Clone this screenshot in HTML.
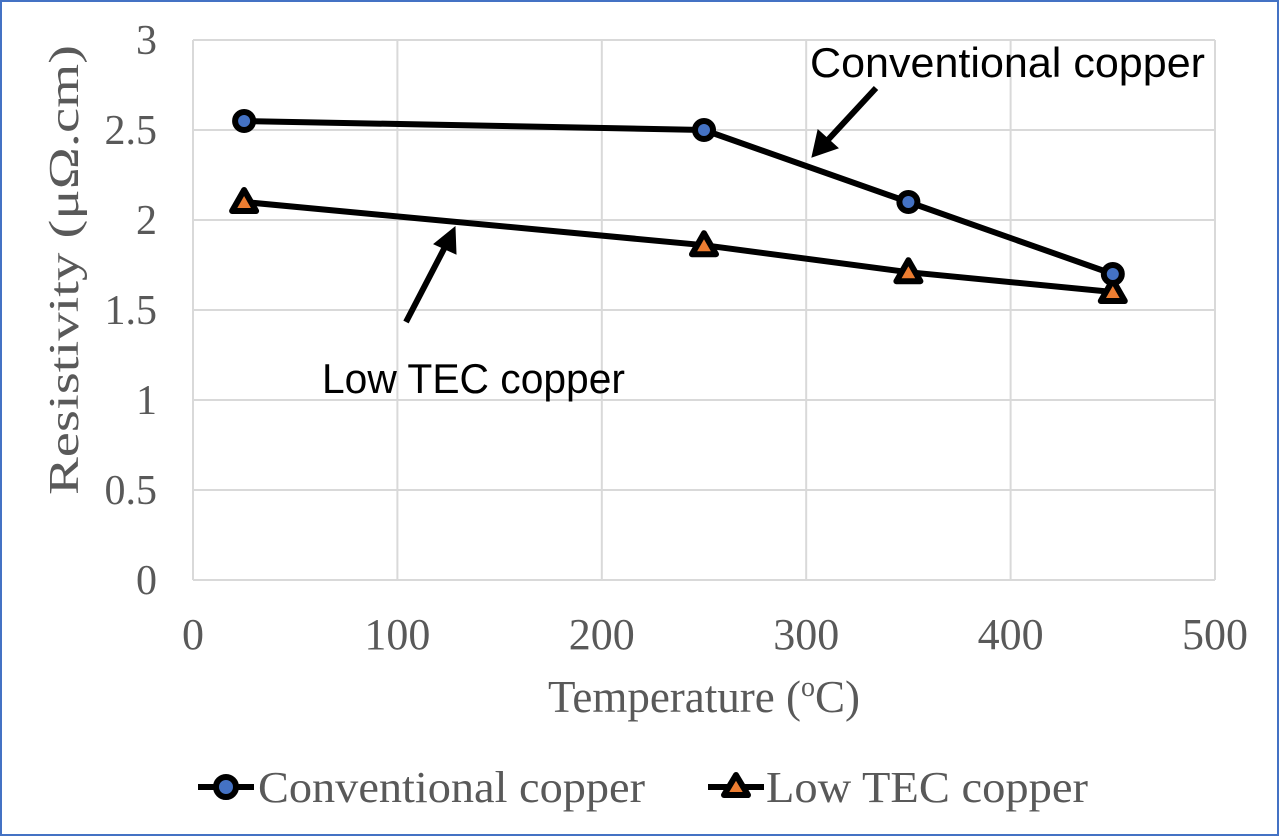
<!DOCTYPE html>
<html><head><meta charset="utf-8"><style>
html,body{margin:0;padding:0;background:#fff}
svg{display:block}
</style></head><body>
<svg width="1280" height="837" xmlns="http://www.w3.org/2000/svg">
<rect x="1" y="1" width="1277" height="834" fill="#fff" stroke="#4472c4" stroke-width="2"/>
<g id="grid"></g>
<g id="ticks" font-family="Liberation Serif, serif" font-size="42" fill="#595959"></g>
<text x="78" y="270" transform="rotate(-90 78 270)" text-anchor="middle" font-family="Liberation Serif, serif" font-size="42" fill="#595959" textLength="450" lengthAdjust="spacingAndGlyphs">Resistivity (μΩ.cm)</text>
<text x="704" y="712" text-anchor="middle" font-family="Liberation Serif, serif" font-size="45" fill="#595959">Temperature (<tspan font-size="28" dy="-16">o</tspan><tspan dy="16">C)</tspan></text>
<g id="series"></g>
<g font-family="Liberation Sans, sans-serif" font-size="42" fill="#000">
<text x="810" y="77" textLength="395" lengthAdjust="spacingAndGlyphs">Conventional copper</text>
<text x="322" y="393" textLength="303" lengthAdjust="spacingAndGlyphs">Low TEC copper</text>
</g>
<g stroke="#000" stroke-width="6" fill="#000">
<line x1="876" y1="88" x2="826" y2="142"/>
<polygon points="812,157 818,130 838,148" stroke-width="1"/>
<line x1="406" y1="322" x2="446" y2="245"/>
<polygon points="455,227 434,244 456,254" stroke-width="1"/>
</g>
<g>
<g>
<line x1="198" y1="787" x2="254" y2="787" stroke="#000" stroke-width="6"/>
<circle cx="226" cy="787" r="10" fill="#4472c4" stroke="#000" stroke-width="6"/>
<text x="258" y="802" font-family="Liberation Serif, serif" font-size="44" fill="#595959" textLength="387" lengthAdjust="spacingAndGlyphs">Conventional copper</text>
</g>
<g>
<line x1="708" y1="787" x2="764" y2="787" stroke="#000" stroke-width="6"/>
<polygon points="736,775 748,795 724,795" fill="#ed7d31" stroke="#000" stroke-width="6" stroke-linejoin="round"/>
<text x="766" y="802" font-family="Liberation Serif, serif" font-size="44" fill="#595959" textLength="322" lengthAdjust="spacingAndGlyphs">Low TEC copper</text>
</g>
</g>
</svg>
<script>
const xTicks=[0,100,200,300,400,500];
const yTicks=[0,0.5,1,1.5,2,2.5,3];
const yTickLabels=['0','0.5','1','1.5','2','2.5','3'];
const temps=[25,250,350,450];
const conventional=[2.55,2.5,2.1,1.7];
const lowTec=[2.1,1.86,1.71,1.6];
const X0=193,X1=1215,Y0=580,Y1=40;
const sx=v=>X0+(v-0)/(500-0)*(X1-X0);
const sy=v=>Y0-(v-0)/(3-0)*(Y0-Y1);
const NS='http://www.w3.org/2000/svg';
const mk=(t,a,p)=>{const e=document.createElementNS(NS,t);for(const k in a)e.setAttribute(k,a[k]);p.appendChild(e);return e;};
const grid=document.getElementById('grid'),ticks=document.getElementById('ticks'),ser=document.getElementById('series');
yTicks.forEach((v,i)=>{
 const l=mk('line',{x1:X0,x2:X1,y1:sy(v),y2:sy(v),stroke:'#d9d9d9','stroke-width':2},grid);
 
 
 const t=mk('text',{x:X0-36,y:sy(v)+14,'text-anchor':'end'},ticks);
 t.textContent=yTickLabels[i];
 
 
});
xTicks.forEach(v=>{
 const l=mk('line',{x1:sx(v),x2:sx(v),y1:Y1,y2:Y0,stroke:'#d9d9d9','stroke-width':2},grid);
 
 
 const t=mk('text',{x:sx(v),y:649,'text-anchor':'middle','font-size':44},ticks);
 t.textContent=String(v);
 
 
});
function line(vals,name){
 const p=mk('polyline',{points:temps.map((t,i)=>sx(t)+','+sy(vals[i])).join(' '),fill:'none',stroke:'#000','stroke-width':6,'stroke-linejoin':'round'},ser);
 
 
}
line(lowTec,'low-tec-line');
line(conventional,'conventional-line');
lowTec.forEach((v,i)=>{
 const x=sx(temps[i]),y=sy(v);
 const m=mk('polygon',{points:`${x},${y-12} ${x+12},${y+9} ${x-12},${y+9}`,fill:'#ed7d31',stroke:'#000','stroke-width':6,'stroke-linejoin':'round'},ser);
 
 
});
conventional.forEach((v,i)=>{
 const m=mk('circle',{cx:sx(temps[i]),cy:sy(v),r:9,fill:'#4472c4',stroke:'#000','stroke-width':6},ser);
 
 
});
</script>
</body></html>
